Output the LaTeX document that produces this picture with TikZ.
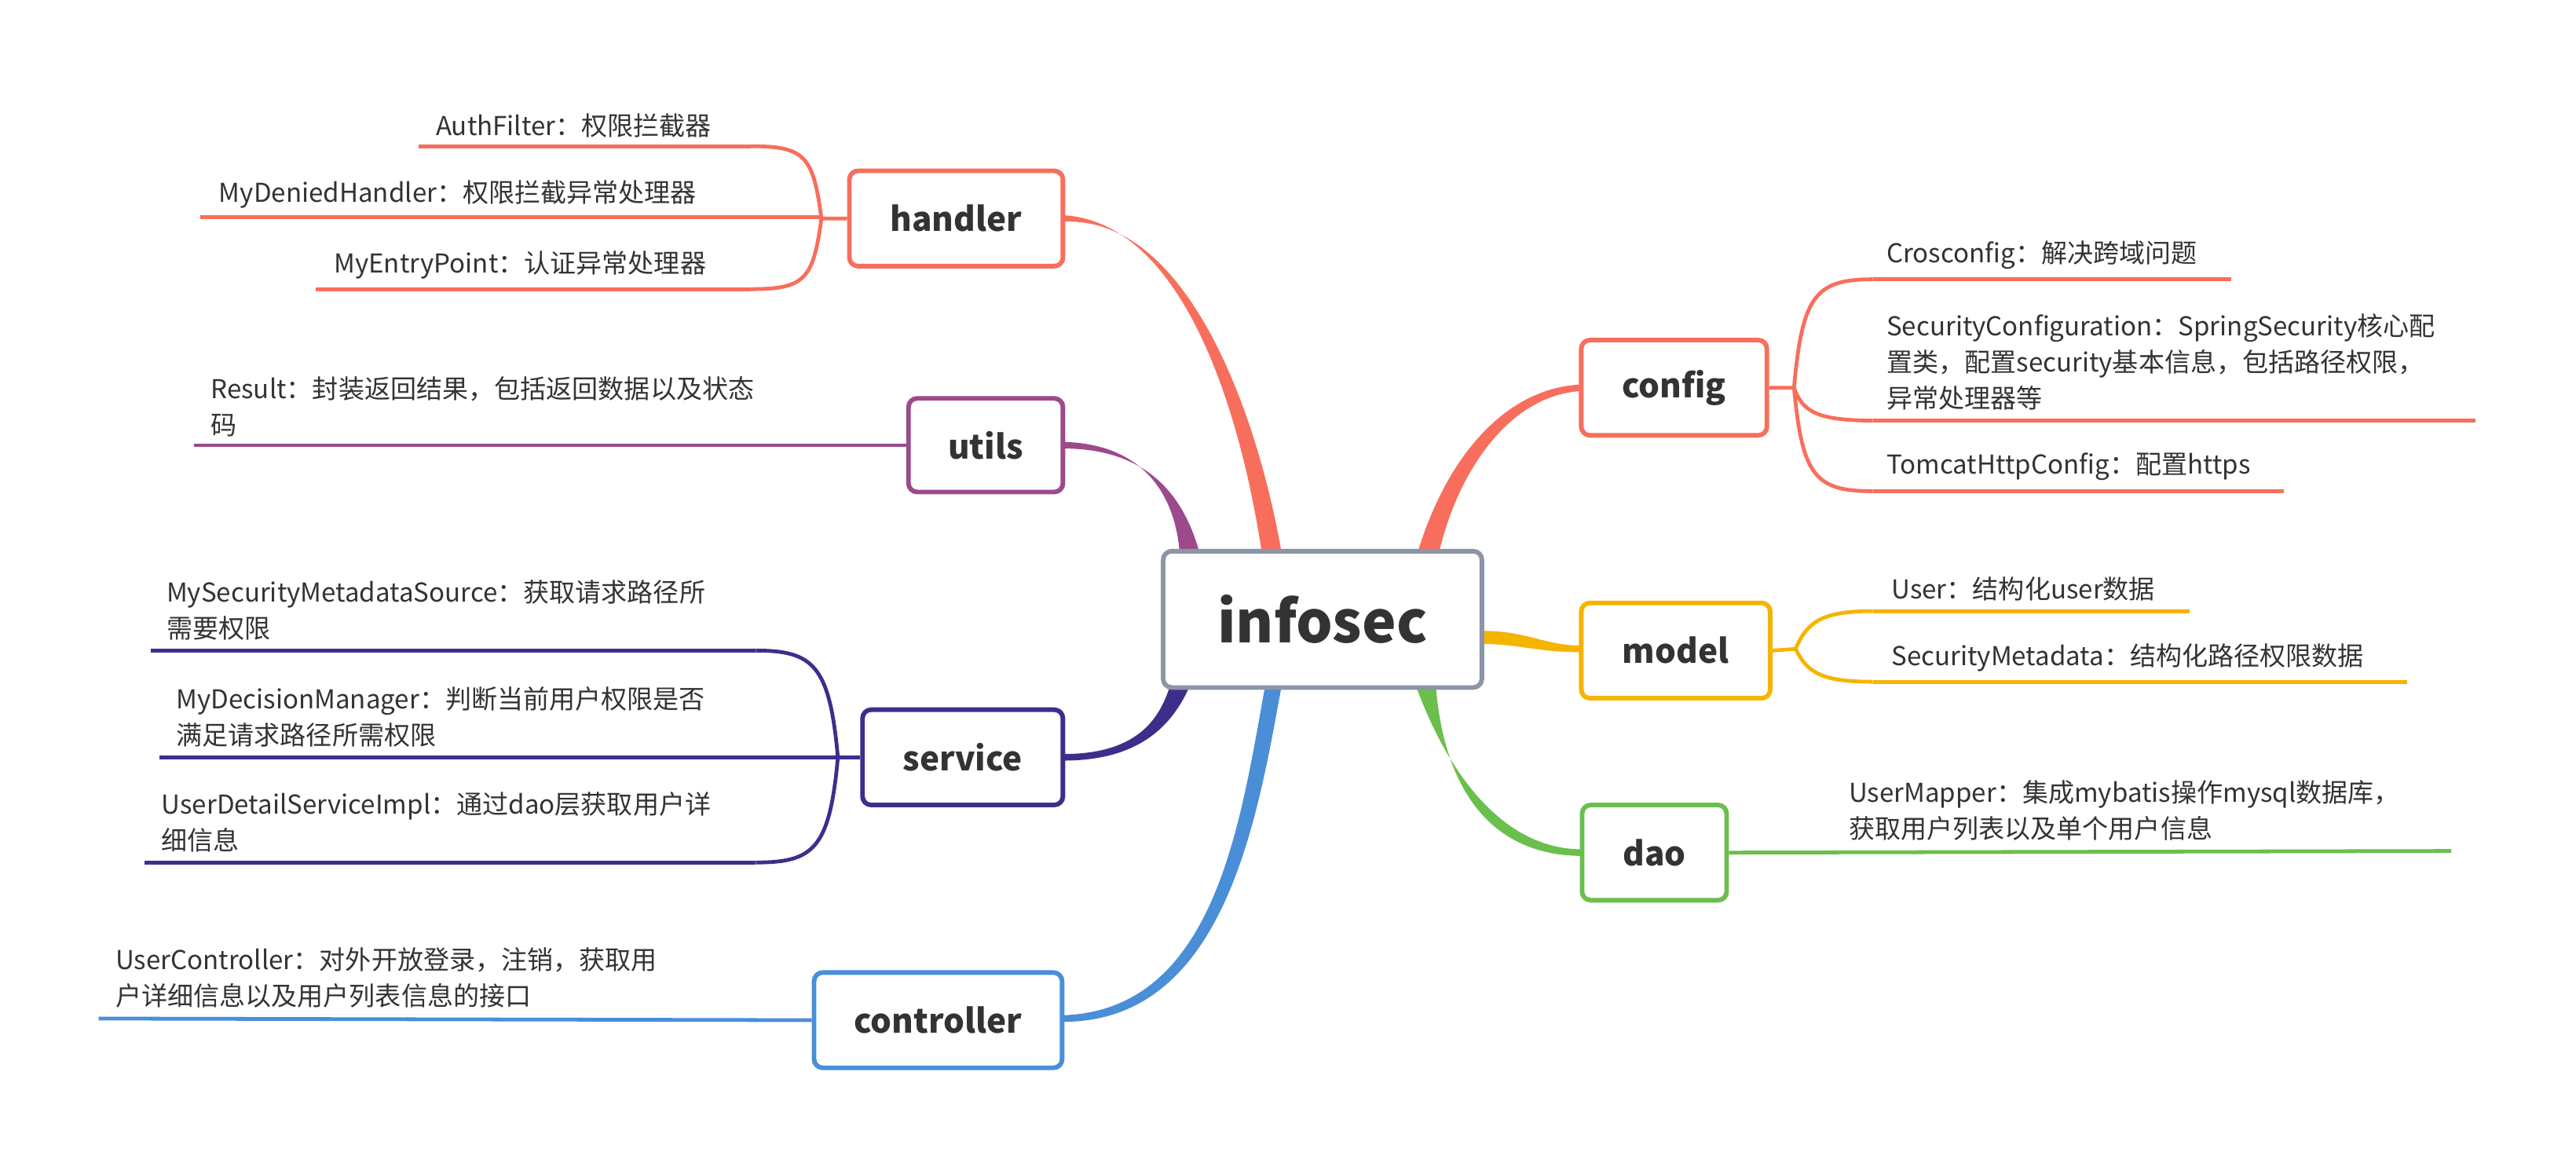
\documentclass[tikz,border=0pt]{standalone}
\usepackage{fontspec}
\setmainfont{Noto Sans CJK SC}
\begin{document}
\definecolor{cRed}{HTML}{F86E5C}
\definecolor{cPur}{HTML}{9B4A8C}
\definecolor{cInd}{HTML}{3E2E8C}
\definecolor{cBlu}{HTML}{4A8ED8}
\definecolor{cYel}{HTML}{F5B400}
\definecolor{cGrn}{HTML}{6BBF4C}
\definecolor{cGry}{HTML}{8C95A6}
\begin{tikzpicture}[x=0.02cm,y=-0.02cm,
 box/.style={draw=#1,line width=1.6pt,rounded corners=3pt,fill=white,font=\fontsize{11.5}{13}\selectfont\bfseries,text=black!80,inner sep=0pt},
 leaf/.style={anchor=south west,align=left,inner sep=0pt,font=\fontsize{9}{12.5}\selectfont,text=black!80},
 ul/.style={draw=#1,line width=1.3pt},
 lk/.style={draw=#1,line width=1.3pt}]
\useasboundingbox (0,0) rectangle (1568,710);
% main branches
\fill[cRed] (647,131) .. controls (720,135) and (755,250) .. (768,336) -- (780,336) .. controls (765,250) and (722,131) .. (647,135) -- cycle;
\fill[cPur] (647,269) .. controls (695,270) and (715,300) .. (718,336) -- (730,336) .. controls (720,300) and (697,273) .. (647,273) -- cycle;
\fill[cInd] (647,459) .. controls (690,459) and (705,440) .. (712,418) -- (724,418) .. controls (712,445) and (690,463) .. (647,463) -- cycle;
\fill[cBlu] (647,618) .. controls (740,615) and (755,500) .. (770,418) -- (780,418) .. controls (765,500) and (745,622) .. (647,622) -- cycle;
\fill[cRed] (863,336) .. controls (880,280) and (915,236) .. (963,234) -- (963,238) .. controls (920,240) and (888,285) .. (876,336) -- cycle;
\fill[cYel] (902,384) .. controls (930,384) and (940,393) .. (963,393) -- (963,397) .. controls (935,397) and (925,392) .. (902,392) -- cycle;
\fill[cGrn] (862,418) .. controls (885,480) and (920,517) .. (963,517) -- (963,521) .. controls (915,521) and (880,490) .. (874,418) -- cycle;
% nodes
\node[box=cGry,minimum width=194*0.02cm,minimum height=83*0.02cm,font=\fontsize{20}{22}\selectfont\bfseries] (root) at (805,377) {infosec};
\node[box=cRed,minimum width=130*0.02cm,minimum height=58*0.02cm] (handler) at (582,133) {handler};
\node[box=cPur,minimum width=94*0.02cm,minimum height=57*0.02cm] (utils) at (600,271) {utils};
\node[box=cInd,minimum width=122*0.02cm,minimum height=58*0.02cm] (service) at (586,461) {service};
\node[box=cBlu,minimum width=151*0.02cm,minimum height=58*0.02cm] (controller) at (571,621) {controller};
\node[box=cRed,minimum width=113*0.02cm,minimum height=58*0.02cm] (config) at (1019,236) {config};
\node[box=cYel,minimum width=115*0.02cm,minimum height=58*0.02cm] (model) at (1020,396) {model};
\node[box=cGrn,minimum width=88*0.02cm,minimum height=58*0.02cm] (dao) at (1007,519) {dao};
% handler leaves
\coordinate (hf) at (500,133);
\node[leaf] (h1) at (265,84) {AuthFilter：权限拦截器};
\node[leaf] (h2) at (133,127) {MyDeniedHandler：权限拦截异常处理器};
\node[leaf] (h3) at (203,170) {MyEntryPoint：认证异常处理器};
\coordinate (h1e) at (457,89); \coordinate (h3e) at (457,176); \coordinate (h2e) at (500,132);
\draw[ul=cRed] (255,89) -- (h1e); \draw[ul=cRed] (122,132) -- (h2e); \draw[ul=cRed] (192,176) -- (h3e);
\draw[lk=cRed] (handler.west) -- (hf) .. controls (495,95) and (490,89) .. (h1e);
\draw[lk=cRed] (hf) .. controls (495,170) and (490,176) .. (h3e);
% utils leaf
\node[leaf] (u1) at (128,266) {Result：封装返回结果，包括返回数据以及状态\\码};
\draw[ul=cPur] (118,271) -- (utils.west);
% service leaves
\coordinate (sf) at (510,461);
\node[leaf] (s1) at (101,390) {MySecurityMetadataSource：获取请求路径所\\需要权限};
\node[leaf] (s2) at (107,455) {MyDecisionManager：判断当前用户权限是否\\满足请求路径所需权限};
\node[leaf] (s3) at (98,519) {UserDetailServiceImpl：通过dao层获取用户详\\细信息};
\coordinate (s1e) at (460,396); \coordinate (s3e) at (460,525);
\draw[ul=cInd] (92,396) -- (s1e); \draw[ul=cInd] (97,461) -- (service.west); \draw[ul=cInd] (88,525) -- (s3e);
\draw[lk=cInd] (sf) .. controls (505,405) and (495,396) .. (s1e);
\draw[lk=cInd] (sf) .. controls (505,517) and (495,525) .. (s3e);
% controller leaf
\node[leaf] (c1) at (70,614) {UserController：对外开放登录，注销，获取用\\户详细信息以及用户列表信息的接口};
\draw[ul=cBlu] (60,620) -- (controller.west);
% config leaves
\coordinate (gf) at (1092,236);
\node[leaf] (g1) at (1148,164) {Crosconfig：解决跨域问题};
\node[leaf] (g2) at (1148,250) {SecurityConfiguration：SpringSecurity核心配\\置类，配置security基本信息，包括路径权限，\\异常处理器等};
\node[leaf] (g3) at (1148,293) {TomcatHttpConfig：配置https};
\coordinate (g1s) at (1140,170); \coordinate (g2s) at (1140,256); \coordinate (g3s) at (1140,299);
\draw[ul=cRed] (g1s) -- (1358,170); \draw[ul=cRed] (g2s) -- (1507,256); \draw[ul=cRed] (g3s) -- (1390,299);
\draw[lk=cRed] (config.east) -- (gf) .. controls (1097,180) and (1105,170) .. (g1s);
\draw[lk=cRed] (gf) .. controls (1097,250) and (1105,256) .. (g2s);
\draw[lk=cRed] (gf) .. controls (1097,290) and (1105,299) .. (g3s);
% model leaves
\coordinate (mf) at (1093,395);
\node[leaf] (m1) at (1151,366) {User：结构化user数据};
\node[leaf] (m2) at (1151,409) {SecurityMetadata：结构化路径权限数据};
\coordinate (m1s) at (1140,372); \coordinate (m2s) at (1140,415);
\draw[ul=cYel] (m1s) -- (1333,372); \draw[ul=cYel] (m2s) -- (1465,415);
\draw[lk=cYel] (model.east) -- (mf) .. controls (1100,378) and (1110,372) .. (m1s);
\draw[lk=cYel] (mf) .. controls (1100,410) and (1110,415) .. (m2s);
% dao leaf
\node[leaf] (d1) at (1125,512) {UserMapper：集成mybatis操作mysql数据库，\\获取用户列表以及单个用户信息};
\draw[ul=cGrn] (dao.east) -- (1492,518);
\end{tikzpicture}
\end{document}
